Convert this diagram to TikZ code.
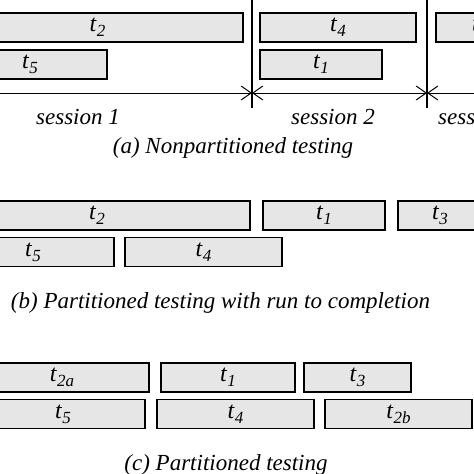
\documentclass[tikz,border=0pt]{standalone}
\usepackage{fontspec}
\setmainfont{Liberation Serif}
\usetikzlibrary{arrows.meta}
\definecolor{boxgray}{RGB}{230,230,230}
\newcommand\tk[1]{\textit{t}\raisebox{-5pt}{\fontsize{17}{17}\selectfont\textit{#1}}}
\tikzset{
  task/.style={draw=black, fill=boxgray, line width=1.3pt, minimum height=29pt, inner sep=0pt, font=\fontsize{24}{24}\selectfont},
  lbl/.style={anchor=base, inner sep=0pt, font=\fontsize{23}{23}\selectfont\itshape},
  sep/.style={line width=1.3pt},
  dim/.style={line width=1pt},
  barb/.tip={Straight Barb[length=10pt,width=14pt,line width=1pt]}
}
\begin{document}
\begin{tikzpicture}[x=1pt,y=-1pt]
\useasboundingbox (0,0) rectangle (474,474);
\clip (0,0) rectangle (474,474);
% ---- (a) ----
\node[task, minimum width=291pt] (a2) at (97.5,27.5) {\tk{2}};
\node[task, minimum width=154pt] (a5) at (30,64.5) {\tk{5}};
\node[task, minimum width=156pt] (a4) at (338,27.5) {\tk{4}};
\node[task, minimum width=122pt] (a1) at (321,64.5) {\tk{1}};
\node[task, minimum width=88pt] (a3) at (480,27.5) {\tk{3}};
\coordinate (v1t) at (252,-5);
\coordinate (v1b) at (252,108);
\coordinate (v2t) at (427,-5);
\coordinate (v2b) at (427,108);
\draw[sep] (v1t) -- (v1b);
\draw[sep] (v2t) -- (v2b);
\coordinate (d0) at (-5,93);
\coordinate (d1) at (252,93);
\coordinate (d2) at (427,93);
\coordinate (d3) at (480,93);
\draw[dim, -{barb}] (d0) -- (d1);
\draw[dim, {barb}-{barb}] (d1) -- (d2);
\draw[dim, {barb}-] (d2) -- (d3);
\node[lbl] (s1) at (78,124) {session 1};
\node[lbl] (s2) at (333,124) {session 2};
\node[lbl, anchor=base west] (s3) at (438,124) {session 3};
\node[lbl] (capa) at (233,153) {(a) Nonpartitioned testing};
% ---- (b) ----
\node[task, minimum width=306pt] (b2) at (97,215.5) {\tk{2}};
\node[task, minimum width=122pt] (b1) at (324,215.5) {\tk{1}};
\node[task, minimum width=84pt] (b3) at (440,215.5) {\tk{3}};
\node[task, minimum width=162pt] (b5) at (33,252) {\tk{5}};
\node[task, minimum width=157pt] (b4) at (203.5,252) {\tk{4}};
\node[lbl] (capb) at (220.5,308) {(b) Partitioned testing with run to completion};
% ---- (c) ----
\node[task, minimum width=174pt] (c2a) at (62,377.5) {\tk{2a}};
\node[task, minimum width=134pt] (c1) at (228,377.5) {\tk{1}};
\node[task, minimum width=107pt] (c3) at (357.5,377.5) {\tk{3}};
\node[task, minimum width=164pt] (c5) at (63,414) {\tk{5}};
\node[task, minimum width=157pt] (c4) at (235.5,414) {\tk{4}};
\node[task, minimum width=147pt] (c2b) at (398.5,414) {\tk{2b}};
\node[lbl] (capc) at (226,470) {(c) Partitioned testing};
\end{tikzpicture}
\end{document}
